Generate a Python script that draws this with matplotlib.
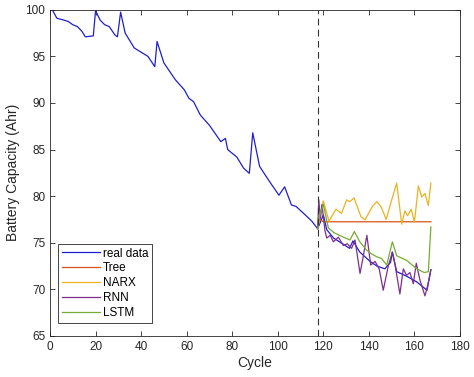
import matplotlib.pyplot as plt

plt.rcParams['font.family'] = ['Liberation Sans', 'DejaVu Sans']

# real battery capacity (cycle, Ahr)
real_cycle = [1, 3, 6, 8, 10, 12, 14, 15.5, 19, 20, 22, 24, 26, 28.5, 29.6, 31, 33, 37, 41, 43,
              46, 47, 50, 55, 59, 61, 63, 66, 70, 74, 75, 77, 78, 82, 85, 87.5, 89, 92, 96,
              100.5, 103, 106, 108, 112, 115, 117.5, 120, 121.5, 124.5, 129, 131.5, 133, 136,
              140.5, 143.5, 147, 149.5, 150.3, 152.2, 156.6, 161, 164, 165.5, 167.2]
real_cap = [100, 99.1, 98.9, 98.75, 98.4, 98.2, 97.7, 97.1, 97.2, 99.9, 98.9, 98.4, 98.2, 97.3,
            97.1, 99.75, 97.5, 95.9, 95.3, 95.0, 93.9, 96.6, 94.3, 92.5, 91.4, 90.5, 90.15,
            88.7, 87.6, 86.2, 85.85, 86.2, 85.0, 84.2, 83.0, 82.45, 86.8, 83.2, 81.7, 80.1,
            81.0, 79.05, 78.9, 78.0, 77.3, 76.5, 78.0, 76.4, 75.5, 74.8, 74.4, 75.2, 74.0,
            73.0, 72.5, 72.2, 72.9, 74.0, 71.9, 71.4, 70.8, 70.2, 69.9, 72.1]

tree_cycle = [117.5, 118, 120, 167.2]
tree_cap = [76.5, 77.6, 77.25, 77.25]

narx_cycle = [117.5, 119, 120, 122.5, 125.5, 128, 130.2, 131.5, 133.5, 136.5, 138.3, 141.5,
              143.4, 145.3, 147.6, 150, 152.2, 154.4, 155.8, 157, 158.6, 160, 161.7, 163.2,
              164.6, 166.1, 167.2]
narx_cap = [76.5, 78.3, 79.5, 77.3, 78.6, 78.15, 79.6, 79.4, 79.8, 77.8, 77.45, 78.9, 79.4,
            78.9, 77.5, 79.6, 81.4, 77.0, 78.4, 77.9, 78.6, 77.2, 81.1, 79.9, 80.3, 79.0, 81.4]

rnn_cycle = [117.5, 118, 118.7, 119.4, 120.7, 121.5, 123, 124.4, 126.6, 128.8, 130.5, 132.4,
             133.9, 136.1, 137.5, 139.1, 140.8, 142.7, 144.5, 146.3, 148.5, 150.3, 151.5,
             153.6, 155.1, 156.5, 158, 159.5, 160.8, 162.4, 164.6, 165.9, 167.2]
rnn_cap = [76.5, 79.6, 77.6, 79.1, 76.3, 75.5, 75.8, 75.1, 75.6, 74.7, 74.9, 74.4, 75.3, 71.7,
           73.5, 75.8, 72.6, 73.0, 72.2, 69.9, 72.5, 74.0, 72.6, 69.5, 72.2, 71.5, 71.8, 70.6,
           72.8, 71.0, 69.3, 70.5, 72.1]

lstm_cycle = [117.5, 118.5, 120, 122.2, 124.5, 128.8, 131.7, 133.6, 136, 139, 141.2, 143.4,
              145.6, 147.8, 150.3, 152.2, 156.6, 161, 164.3, 166.1, 167.2]
lstm_cap = [76.5, 78.0, 79.1, 76.6, 76.1, 75.6, 75.3, 76.2, 75.1, 74.2, 73.8, 73.5, 73.3,
            72.6, 75.1, 73.6, 73.1, 72.2, 71.8, 71.9, 76.7]

split_cycle = 117.5

fig = plt.figure(figsize=(4.74, 3.77), dpi=100)
ax = fig.add_axes([0.1055, 0.109, 0.865, 0.865])

ax.plot(real_cycle, real_cap, color='#1f1fcf', lw=0.9, label='real data')
ax.plot(tree_cycle, tree_cap, color='#D95319', lw=0.9, label='Tree')
ax.plot(narx_cycle, narx_cap, color='#EDB120', lw=0.9, label='NARX')
ax.plot(rnn_cycle, rnn_cap, color='#7E2F8E', lw=0.9, label='RNN')
ax.plot(lstm_cycle, lstm_cap, color='#77AC30', lw=0.9, label='LSTM')
ax.axvline(split_cycle, color='#333333', lw=0.8, ls=(0, (6, 4)))

ax.set_xlim(0, 180)
ax.set_ylim(65, 100)
ax.set_xticks(range(0, 181, 20))
ax.set_yticks(range(65, 101, 5))
ax.tick_params(direction='in', top=True, right=True, length=3.5, width=0.6,
               labelsize=8.5, colors='#262626')
for s in ax.spines.values():
    s.set_linewidth(0.6)
    s.set_color('#262626')

ax.set_xlabel('Cycle', fontsize=10, color='#262626', labelpad=2)
ax.set_ylabel('Battery Capacity (Ahr)', fontsize=10, color='#262626', labelpad=4)

leg = ax.legend(loc='lower left', bbox_to_anchor=(0.02, 0.04), fontsize=8.5,
                fancybox=False, edgecolor='#262626', framealpha=1,
                handlelength=3.2, handletextpad=0.3, borderpad=0.3, labelspacing=0.25,
                borderaxespad=0)
leg.get_frame().set_linewidth(0.6)

fig.savefig('out.png', dpi=100)
